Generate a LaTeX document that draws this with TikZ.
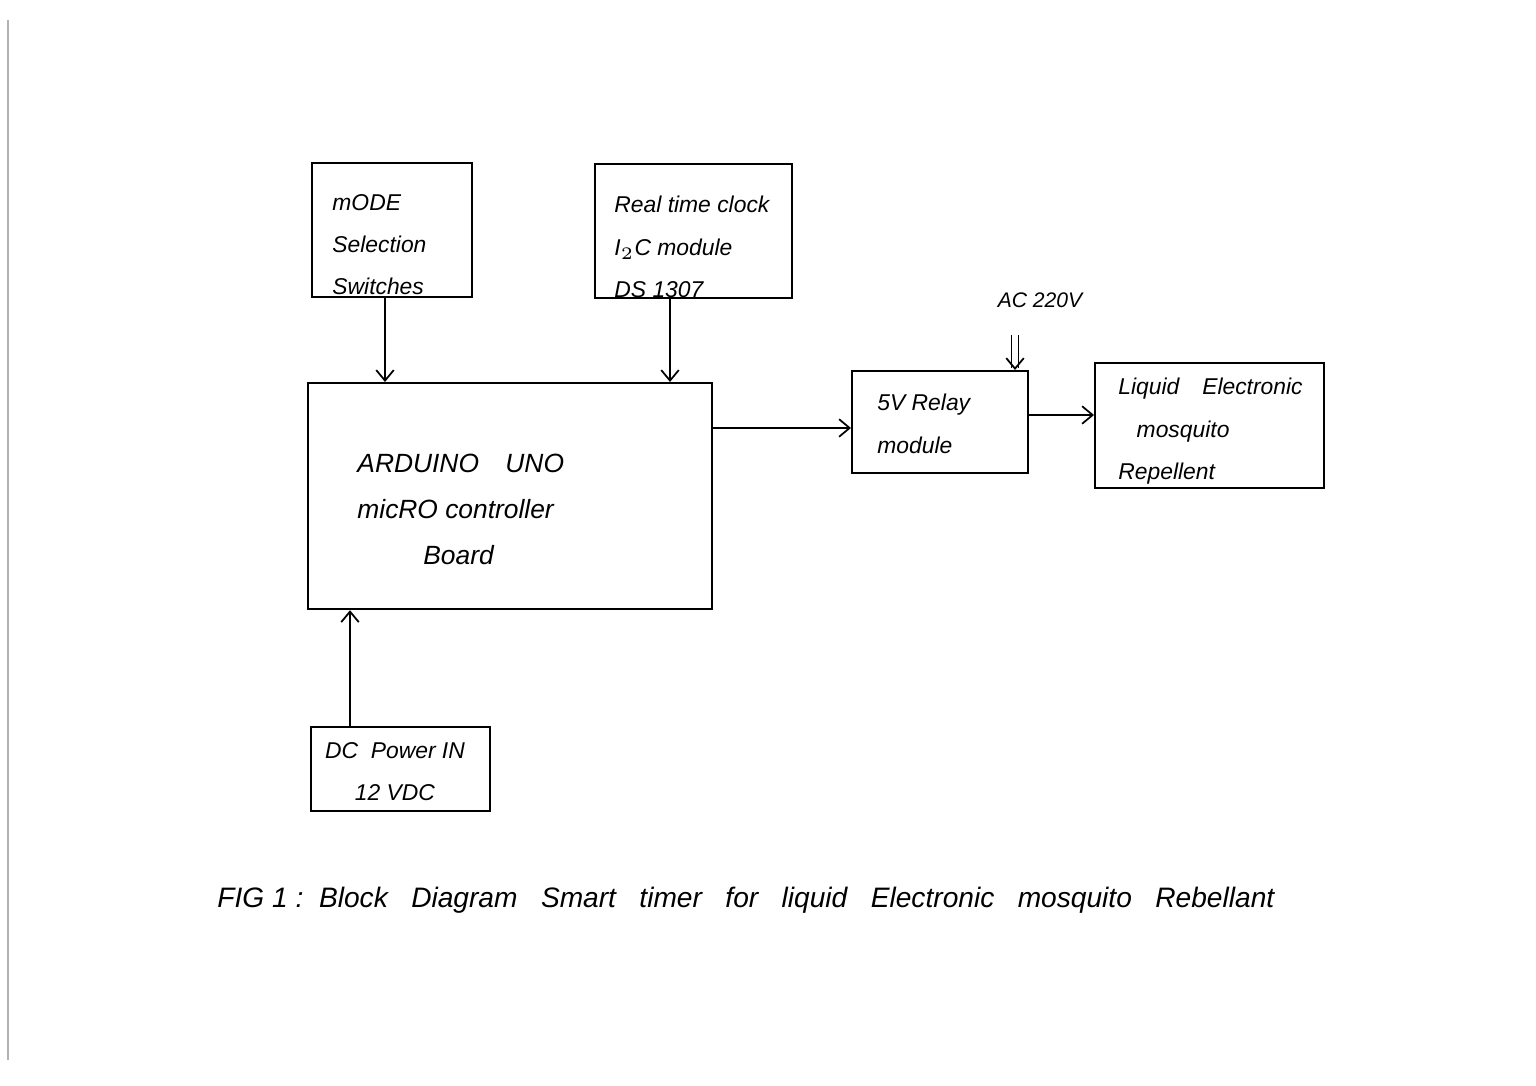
\documentclass[tikz,border=0pt]{standalone}
\usepackage{fontspec}
\setmainfont{Liberation Sans}
\usetikzlibrary{arrows.meta}
\begin{document}
\begin{tikzpicture}[x=0.01cm,y=-0.01cm,
  box/.style={draw,line width=0.6pt,inner sep=0pt},
  lbl/.style={align=left,anchor=north west,font=\fontsize{6.5pt}{12pt}\selectfont\itshape},
  arr/.style={-{Straight Barb[length=3pt,width=5pt]},line width=0.5pt}]
\path[use as bounding box] (0,0) rectangle (1536,1086);
\draw[gray!60] (8,20) -- (8,1060);
\node[box,minimum width=1.6cm,minimum height=1.34cm,anchor=north west] (mode) at (311,162) {};
\node[lbl] at (320,182) {mODE\\Selection\\Switches};
\node[box,minimum width=1.97cm,minimum height=1.34cm,anchor=north west] (rtc) at (594,163) {};
\node[lbl] at (602,184) {Real time clock\\I$_2$C module\\DS 1307};
\node[box,minimum width=4.04cm,minimum height=2.26cm,anchor=north west] (ard) at (307,382) {};
\node[lbl,font=\fontsize{7.5pt}{13pt}\selectfont\itshape] at (345,442) {ARDUINO\quad UNO\\micRO controller\\\hspace{2.5em}Board};
\node[box,minimum width=1.76cm,minimum height=1.02cm,anchor=north west] (relay) at (851,370) {};
\node[lbl] at (865,382) {5V Relay\\module};
\node[box,minimum width=2.29cm,minimum height=1.25cm,anchor=north west] (liq) at (1094,362) {};
\node[lbl] at (1106,366) {Liquid\quad Electronic\\\hspace{0.8em}mosquito\\Repellent};
\node[box,minimum width=1.79cm,minimum height=0.84cm,anchor=north west] (dc) at (310,726) {};
\node[lbl,align=center,anchor=north] at (395,730) {DC\ \ Power IN\\12 VDC};
\node[font=\itshape\fontsize{6pt}{7pt}\selectfont] (ac) at (1040,300) {AC 220V};
\coordinate (acA) at (1015,335);
\draw[arr] (mode.south -| 385,0) -- (ard.north -| 385,0);
\draw[arr] (rtc.south -| 670,0) -- (ard.north -| 670,0);
\draw[arr] (ard.east |- 0,428) -- (relay.west |- 0,428);
\draw[arr] (relay.east |- 0,415) -- (liq.west |- 0,415);
\draw[arr] (dc.north -| 350,0) -- (ard.south -| 350,0);
\draw[arr,double,double distance=1.5pt] (acA) -- (relay.north -| acA);
\node[font=\itshape\fontsize{8pt}{9pt}\selectfont,anchor=west] (cap) at (205,900) {FIG 1 :\ \ Block\ \ \ Diagram\ \ \ Smart\ \ \ timer\ \ \ for\ \ \ liquid\ \ \ Electronic\ \ \ mosquito\ \ \ Rebellant};
\end{tikzpicture}
\end{document}
